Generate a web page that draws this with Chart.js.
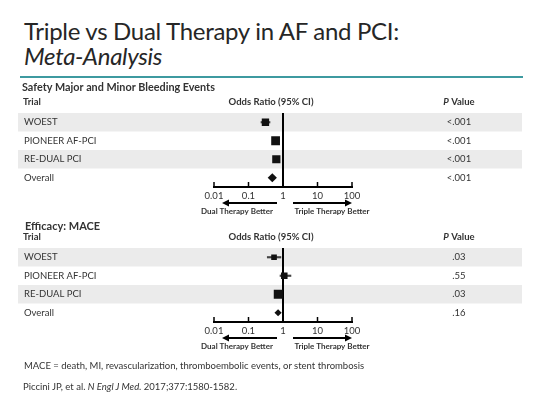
<!DOCTYPE html>
<html>
<head>
<meta charset="utf-8">
<script src="https://cdn.jsdelivr.net/npm/chart.js@4.4.1/dist/chart.umd.min.js"></script>
<style>
  body { margin: 0; width: 540px; height: 405px; background: #fff; position: relative; overflow: hidden; font-family: Lato, sans-serif; color: #333; }
  .title { position: absolute; left: 24px; font-size: 24px; line-height: 30px; letter-spacing: -0.3px; color: #262626; white-space: nowrap; }
  .rule { position: absolute; left: 20px; top: 76px; width: 503px; height: 2px; background: #3e9aa0; }
  .plot { position: absolute; left: 0; width: 540px; height: 140px; }
  .note { position: absolute; left: 24px; font-size: 9.5px; line-height: 12px; color: #333; white-space: nowrap; }
</style>
</head>
<body>
<div class="title" style="top:16px">Triple vs Dual Therapy in AF and PCI:</div>
<div class="title" style="top:41px; font-style:italic">Meta-Analysis</div>
<div class="rule"></div>
<div class="plot" style="top:80px"><canvas id="bleedChart"></canvas></div>
<div class="plot" style="top:215px"><canvas id="maceChart"></canvas></div>
<div class="note" style="top:360px">MACE = death, MI, revascularization, thromboembolic events, or stent thrombosis</div>
<div class="note" style="top:381px; left:23px">Piccini JP, et al. <i>N Engl J Med.</i> 2017;377:1580-1582.</div>
<script>
const trials = ['WOEST', 'PIONEER AF-PCI', 'RE-DUAL PCI', 'Overall'];
const tickValues = [0.01, 0.1, 1, 10, 100];
const tickLabels = ['0.01', '0.1', '1', '10', '100'];

// safety: major and minor bleeding
const bleedOR = [0.31, 0.61, 0.64, 0.49];
const bleedLow = [0.23, 0.53, 0.56, null];
const bleedHigh = [0.42, 0.71, 0.73, null];
const bleedP = ['<.001', '<.001', '<.001', '<.001'];

// efficacy: MACE
const maceOR = [0.55, 1.09, 0.73, 0.72];
const maceLow = [0.35, 0.82, 0.62, null];
const maceHigh = [0.87, 1.70, 0.86, null];
const maceP = ['.03', '.55', '.03', '.16'];

const TEXT = '#333';

const forestDeco = {
  id: 'forestDeco',
  beforeDatasetsDraw(chart, args, o) {
    const { ctx, chartArea: a, scales: { x, y } } = chart;
    const band = (a.bottom - a.top) / trials.length;
    ctx.save();
    ctx.fillStyle = '#ebebeb';
    trials.forEach((t, i) => {
      if (i % 2 === 0) ctx.fillRect(18, y.getPixelForValue(i) - band / 2, 504, band);
    });
    const x1 = x.getPixelForValue(1);
    ctx.strokeStyle = '#000';
    ctx.lineWidth = 2;
    ctx.beginPath();
    ctx.moveTo(x1, a.top);
    ctx.lineTo(x1, a.bottom);
    ctx.stroke();
    ctx.restore();
  },
  afterDraw(chart, args, o) {
    const { ctx, chartArea: a, scales: { x, y } } = chart;
    const x1 = x.getPixelForValue(1);
    ctx.save();
    ctx.fillStyle = TEXT;
    ctx.textBaseline = 'middle';

    // heading + column headers
    ctx.textAlign = 'left';
    ctx.font = 'bold ' + o.headSize + 'px Lato';
    ctx.fillText(o.heading, o.headX, a.top - o.headGap);
    ctx.font = 'bold 9.5px Lato';
    ctx.fillText('Trial', 23, a.top - 11);
    ctx.textAlign = 'center';
    ctx.fillText('Odds Ratio (95% CI)', x1 - 12, a.top - 11);
    ctx.font = 'italic bold 9.5px Lato';
    const pw = ctx.measureText('P').width;
    ctx.font = 'bold 9.5px Lato';
    const vw = ctx.measureText(' Value').width;
    const px0 = 459 - (pw + vw) / 2;
    ctx.textAlign = 'left';
    ctx.font = 'italic bold 9.5px Lato';
    ctx.fillText('P', px0, a.top - 11);
    ctx.font = 'bold 9.5px Lato';
    ctx.fillText(' Value', px0 + pw, a.top - 11);

    // rows
    ctx.font = '9.5px Lato';
    trials.forEach((t, i) => {
      const yy = y.getPixelForValue(i);
      ctx.textAlign = 'left';
      ctx.fillText(t, 24, yy);
      ctx.textAlign = 'center';
      ctx.fillText(o.pvals[i], 459, yy);
    });

    // upward tick marks
    ctx.strokeStyle = '#000';
    ctx.lineWidth = 1.5;
    tickValues.forEach(v => {
      const px = x.getPixelForValue(v);
      ctx.beginPath();
      ctx.moveTo(px, a.bottom);
      ctx.lineTo(px, a.bottom - 5);
      ctx.stroke();
    });

    // direction arrows
    const ay = a.bottom + 16;
    ctx.lineWidth = 2;
    ctx.fillStyle = '#000';
    const arrow = (from, to) => {
      const dir = Math.sign(to - from);
      ctx.beginPath();
      ctx.moveTo(from, ay);
      ctx.lineTo(to - dir * 6, ay);
      ctx.stroke();
      ctx.beginPath();
      ctx.moveTo(to, ay);
      ctx.lineTo(to - dir * 7, ay - 3.5);
      ctx.lineTo(to - dir * 7, ay + 3.5);
      ctx.closePath();
      ctx.fill();
    };
    arrow(x1 - 6, x1 - 61);
    arrow(x1 + 10, x1 + 69);
    ctx.fillStyle = TEXT;
    ctx.font = 'bold 8px Lato';
    ctx.textAlign = 'center';
    ctx.fillText('Dual Therapy Better', x1 - 46, a.bottom + 24);
    ctx.fillText('Triple Therapy Better', x1 + 49, a.bottom + 24);
    ctx.restore();
  }
};

function makeForest(id, or, low, high, pvals, radii, deco) {
  new Chart(document.getElementById(id), {
    type: 'bar',
    data: {
      labels: trials,
      datasets: [
        {
          type: 'scatter',
          data: or.map((v, i) => ({ x: v, y: trials[i] })),
          pointStyle: ['rect', 'rect', 'rect', 'rectRot'],
          pointRadius: radii,
          backgroundColor: '#111',
          borderWidth: 0,
          order: 0
        },
        {
          data: low.map((v, i) => (v === null ? null : [v, high[i]])),
          backgroundColor: '#444',
          barThickness: 1.5,
          order: 1
        }
      ]
    },
    options: {
      indexAxis: 'y',
      responsive: true,
      maintainAspectRatio: false,
      animation: false,
      events: [],
      layout: { padding: { top: 33, left: 214, right: 188, bottom: 13 } },
      plugins: { legend: { display: false }, tooltip: { enabled: false }, forestDeco: deco },
      scales: {
        x: {
          type: 'logarithmic',
          min: 0.01,
          max: 100,
          afterBuildTicks: s => { s.ticks = tickValues.map(v => ({ value: v })); },
          afterFit: s => { s.height = 20; },
          grid: { display: false, drawTicks: false },
          border: { display: true, color: '#000', width: 2 },
          ticks: {
            padding: 3,
            color: TEXT,
            font: { family: 'Lato', size: 9.5 },
            maxRotation: 0,
            callback: (v, i) => tickLabels[i]
          }
        },
        y: { type: 'category', display: false }
      }
    },
    plugins: [forestDeco]
  });
}

makeForest('bleedChart', bleedOR, bleedLow, bleedHigh, bleedP, [5.2, 6.2, 5.8, 4.6],
  { heading: 'Safety Major and Minor Bleeding Events', headSize: 10.8, headX: 22, headGap: 25, pvals: bleedP });
makeForest('maceChart', maceOR, maceLow, maceHigh, maceP, [4, 4.6, 6.4, 3.6],
  { heading: 'Efficacy: MACE', headSize: 11, headX: 25, headGap: 22, pvals: maceP });
</script>
</body>
</html>
